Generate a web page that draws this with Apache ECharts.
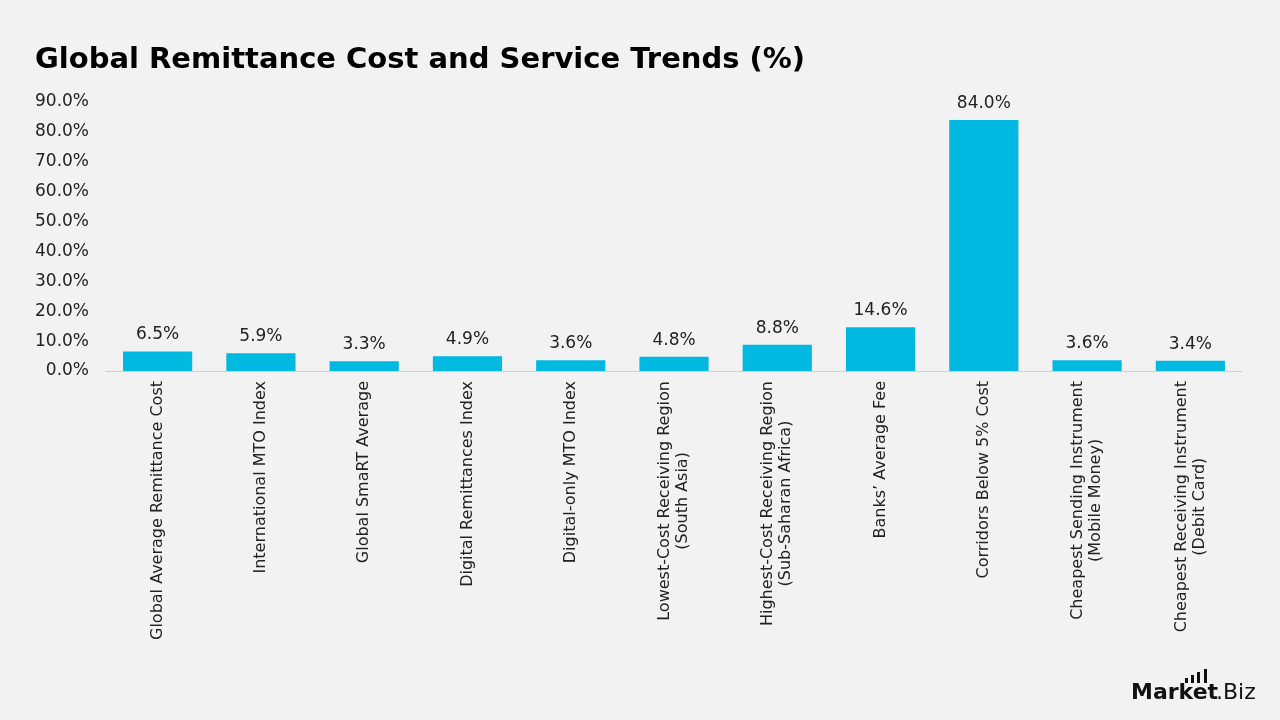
<!DOCTYPE html>
<html>
<head>
<meta charset="utf-8">
<script src="https://cdn.jsdelivr.net/npm/echarts@6/dist/echarts.min.js"></script>
<style>
  html, body { margin: 0; padding: 0; background: #f2f2f2; }
  #chart { width: 1280px; height: 720px; }
</style>
</head>
<body>
<div id="chart"></div>
<script>
// chart data
var categories = [
  'Global Average Remittance Cost',
  'International MTO Index',
  'Global SmaRT Average',
  'Digital Remittances Index',
  'Digital-only MTO Index',
  'Lowest-Cost Receiving Region\n(South Asia)',
  'Highest-Cost Receiving Region\n(Sub-Saharan Africa)',
  'Banks\u2019 Average Fee',
  'Corridors Below 5% Cost',
  'Cheapest Sending Instrument\n(Mobile Money)',
  'Cheapest Receiving Instrument\n(Debit Card)'
];
var values = [6.5, 5.9, 3.3, 4.9, 3.6, 4.8, 8.8, 14.6, 84.0, 3.6, 3.4];

var fontName = '"DejaVu Sans", sans-serif';

var chart = echarts.init(document.getElementById('chart'));

chart.setOption({
  backgroundColor: '#f2f2f2',
  animation: false,
  title: {
    text: 'Global Remittance Cost and Service Trends (%)',
    left: 30,
    top: 41,
    textStyle: { fontFamily: fontName, fontSize: 29, fontWeight: 'bold', color: '#000' }
  },
  grid: { left: 106, right: 38, top: 102, bottom: 349, containLabel: false },
  xAxis: {
    type: 'category',
    data: categories,
    axisLine: { lineStyle: { color: '#d0d0d0' } },
    axisTick: { show: false },
    axisLabel: {
      rotate: 90,
      interval: 0,
      margin: 10,
      color: '#222',
      fontFamily: fontName,
      fontSize: 16,
      lineHeight: 18,
      formatter: function (v) {
        return v.split('\n').map(function (s) { return '{c|' + s + '}'; }).join('\n');
      },
      rich: { c: { align: 'center', fontFamily: fontName, fontSize: 16, color: '#222', lineHeight: 18 } }
    }
  },
  yAxis: {
    type: 'value',
    min: 0,
    max: 90,
    interval: 10,
    splitLine: { show: false },
    axisLine: { show: false },
    axisTick: { show: false },
    axisLabel: {
      margin: 17,
      color: '#222',
      fontFamily: fontName,
      fontSize: 17,
      formatter: function (v) { return v.toFixed(1) + '%'; }
    }
  },
  series: [{
    type: 'bar',
    data: values,
    barWidth: '67%',
    itemStyle: { color: '#00b9e0' },
    label: {
      show: true,
      position: 'top',
      distance: 8,
      color: '#222',
      fontFamily: fontName,
      fontSize: 17,
      formatter: function (p) { return p.value.toFixed(1) + '%'; }
    }
  }],
  graphic: [
    {
      type: 'text',
      left: 1131,
      top: 682,
      style: { text: 'Market', fill: '#111', font: 'bold 22px ' + fontName }
    },
    {
      type: 'text',
      left: 1216,
      top: 682,
      style: { text: '.Biz', fill: '#111', font: '22px ' + fontName }
    },
    { type: 'rect', left: 1185, top: 678, shape: { width: 3, height: 5 }, style: { fill: '#111' } },
    { type: 'rect', left: 1191, top: 675, shape: { width: 3, height: 8 }, style: { fill: '#111' } },
    { type: 'rect', left: 1197, top: 672, shape: { width: 3, height: 11 }, style: { fill: '#111' } },
    { type: 'rect', left: 1204, top: 669, shape: { width: 3, height: 14 }, style: { fill: '#111' } }
  ]
});
</script>
</body>
</html>
